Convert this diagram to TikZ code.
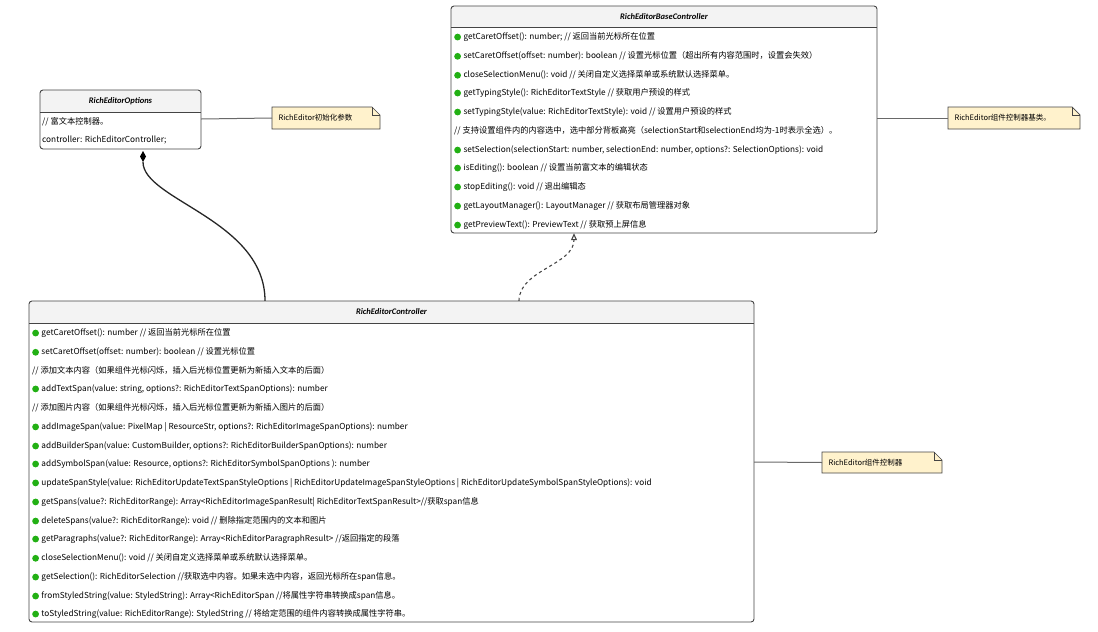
\documentclass[tikz,border=0pt]{standalone}
\usepackage{fontspec}
\setmainfont{Noto Sans CJK SC}
\newfontfamily\titlefont{Carlito}
\usetikzlibrary{arrows.meta}
\definecolor{hdr}{HTML}{F3F3F3}
\definecolor{notebg}{HTML}{FFF2CC}
\definecolor{edge}{HTML}{444444}
\definecolor{dotg}{HTML}{22B014}
\newcommand{\gd}{\tikz[baseline=-2.4pt]\fill[dotg] (0,0) circle (3.4pt);\hspace{2.5pt}}
\tikzset{
 boxc/.style={draw=edge,line width=0.9pt,rounded corners=3pt,fill=white},
 row/.style={anchor=west,inner sep=0pt,font=\fontsize{8.25}{9}\selectfont},
 ttl/.style={font=\titlefont\bfseries\itshape\fontsize{8.5}{9}\selectfont},
 notebox/.style={draw=edge,fill=notebg,line width=0.7pt},
 conn/.style={draw=edge!80,line width=1pt}
}
\begin{document}
\begin{tikzpicture}[x=1pt,y=-1pt]
\useasboundingbox (0,0) rectangle (1098,632);
% ---------- Base controller
\fill[hdr,rounded corners=3pt] (451,6) rectangle (877,27);
\draw[edge,line width=0.9pt] (451,27) -- (877,27);
\draw[boxc,fill=none] (451,6) rectangle (877,233);
\node[ttl] (bt) at (664,17) {RichEditorBaseController};
\node (base) at (664,119.5) [minimum width=426pt,minimum height=227pt,inner sep=0pt] {};
\foreach \y/\t in {
37/{\gd getCaretOffset(): number; // 返回当前光标所在位置},
56/{\gd setCaretOffset(offset: number): boolean // 设置光标位置（超出所有内容范围时，设置会失效）},
75/{\gd closeSelectionMenu(): void // 关闭自定义选择菜单或系统默认选择菜单。},
93/{\gd getTypingStyle(): RichEditorTextStyle // 获取用户预设的样式},
112/{\gd setTypingStyle(value: RichEditorTextStyle): void // 设置用户预设的样式},
131/{// 支持设置组件内的内容选中，选中部分背板高亮（selectionStart和selectionEnd均为-1时表示全选）。},
150/{\gd setSelection(selectionStart: number, selectionEnd: number, options?: SelectionOptions): void},
168/{\gd isEditing(): boolean // 设置当前富文本的编辑状态},
187/{\gd stopEditing(): void // 退出编辑态},
206/{\gd getLayoutManager(): LayoutManager // 获取布局管理器对象},
225/{\gd getPreviewText(): PreviewText // 获取预上屏信息}}
 \node[row] at (454,\y) {\t};
% ---------- Options
\fill[hdr,rounded corners=3pt] (40,90) rectangle (201,112);
\draw[edge,line width=0.9pt] (40,112) -- (201,112);
\draw[boxc,fill=none] (40,90) rectangle (201,149);
\node[ttl] at (120.5,101) {RichEditorOptions};
\node (opt) at (120.5,119.5) [minimum width=161pt,minimum height=59pt,inner sep=0pt] {};
\node[row] at (42,122) {// 富文本控制器。};
\node[row] at (42,140) {controller: RichEditorController;};
% ---------- Controller
\fill[hdr,rounded corners=3pt] (29,301) rectangle (754,323);
\draw[edge,line width=0.9pt] (29,323) -- (754,323);
\draw[boxc,fill=none] (29,301) rectangle (754,622);
\node[ttl] at (391.5,312) {RichEditorController};
\node (ctl) at (391.5,461.5) [minimum width=725pt,minimum height=321pt,inner sep=0pt] {};
\foreach \y/\t in {
333/{\gd getCaretOffset(): number // 返回当前光标所在位置},
352/{\gd setCaretOffset(offset: number): boolean // 设置光标位置},
371/{// 添加文本内容（如果组件光标闪烁，插入后光标位置更新为新插入文本的后面）},
389/{\gd addTextSpan(value: string, options?: RichEditorTextSpanOptions): number},
408/{// 添加图片内容（如果组件光标闪烁，插入后光标位置更新为新插入图片的后面）},
427/{\gd addImageSpan(value: PixelMap | ResourceStr, options?: RichEditorImageSpanOptions): number},
446/{\gd addBuilderSpan(value: CustomBuilder, options?: RichEditorBuilderSpanOptions): number},
464/{\gd addSymbolSpan(value: Resource, options?: RichEditorSymbolSpanOptions ): number},
483/{\gd updateSpanStyle(value: RichEditorUpdateTextSpanStyleOptions | RichEditorUpdateImageSpanStyleOptions | RichEditorUpdateSymbolSpanStyleOptions): void},
502/{\gd getSpans(value?: RichEditorRange): Array<RichEditorImageSpanResult| RichEditorTextSpanResult>//获取span信息},
521/{\gd deleteSpans(value?: RichEditorRange): void // 删除指定范围内的文本和图片},
539/{\gd getParagraphs(value?: RichEditorRange): Array<RichEditorParagraphResult> //返回指定的段落},
558/{\gd closeSelectionMenu(): void // 关闭自定义选择菜单或系统默认选择菜单。},
577/{\gd getSelection(): RichEditorSelection //获取选中内容。如果未选中内容，返回光标所在span信息。},
596/{\gd fromStyledString(value: StyledString): Array<RichEditorSpan //将属性字符串转换成span信息。},
614/{\gd toStyledString(value: RichEditorRange): StyledString // 将给定范围的组件内容转换成属性字符串。}}
 \node[row] at (32,\y) {\t};
% ---------- Notes
\foreach \n/\xa/\ya/\xb/\yb/\t in {n1/272/107/380/129/{RichEditor初始化参数}, n2/948/107/1080/129/{RichEditor组件控制器基类。}, n3/822/452/942/473/{RichEditor组件控制器}}{
 \draw[notebox] (\xa,\ya) -- (\xb-8,\ya) -- (\xb,\ya+8) -- (\xb,\yb) -- (\xa,\yb) -- cycle;
 \draw[edge,line width=0.7pt] (\xb-8,\ya) -- (\xb-8,\ya+8) -- (\xb,\ya+8);
 \node[font=\fontsize{7.5}{8}\selectfont,anchor=west] (\n) at (\xa+3,{(\ya+\yb)/2}) {\t};
 \coordinate (\n w) at (\xa,{(\ya+\yb)/2});
}
% ---------- Connectors
\draw[conn] (opt.east |- 0,119) -- (n1w);
\draw[conn] (base.east |- 0,118) -- (n2w);
\draw[conn] (ctl.east |- 0,462) -- (n3w);
\draw[conn,draw=black!85,line width=1.3pt] (143,162) .. controls (143,200) and (265,220) .. (ctl.north -| 265,0);
\fill[black] (143,151) -- (146,156.5) -- (143,162) -- (140,156.5) -- cycle;
\draw[edge,line width=1.1pt,dashed,-{Triangle[open,length=7pt,width=6pt]}] (ctl.north -| 519,0) .. controls (519,270) and (574,265) .. (base.south -| 574,0);
\end{tikzpicture}
\end{document}
